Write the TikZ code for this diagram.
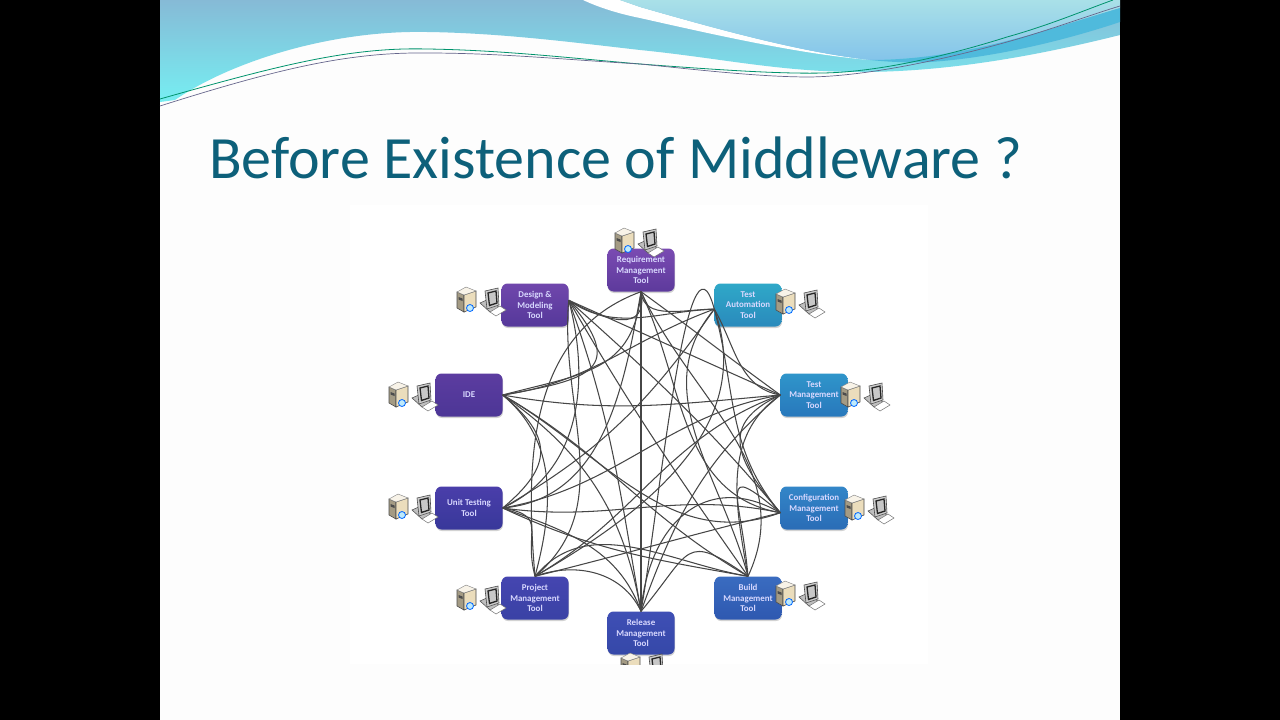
\documentclass[tikz,border=0pt]{standalone}
\usepackage{fontspec}
\setmainfont{Carlito}
\usetikzlibrary{shadows}
\definecolor{titleblue}{HTML}{0D607A}
\definecolor{slidewhite}{HTML}{FDFDFD}
\definecolor{toolink}{HTML}{464646}
\definecolor{bandtop}{HTML}{86BAD6}
\definecolor{bandbot}{HTML}{76EEF2}
\definecolor{skytop}{HTML}{A9E0E8}
\definecolor{skybot}{HTML}{84C4EA}
\definecolor{streak}{HTML}{4FBADC}
\definecolor{servertan}{HTML}{EBDDBC}
\definecolor{reqtop}{HTML}{7A4BB2}\definecolor{reqbot}{HTML}{5D3A9C}
\definecolor{destop}{HTML}{7047AC}\definecolor{desbot}{HTML}{55389A}
\definecolor{tautop}{HTML}{2FA8C8}\definecolor{taubot}{HTML}{2A8ABC}
\definecolor{idetop}{HTML}{5C3CA0}\definecolor{idebot}{HTML}{4C3696}
\definecolor{tmgtop}{HTML}{2F95CA}\definecolor{tmgbot}{HTML}{2878BC}
\definecolor{unttop}{HTML}{4A3EAA}\definecolor{untbot}{HTML}{38389A}
\definecolor{cfgtop}{HTML}{3386C8}\definecolor{cfgbot}{HTML}{2A6CB6}
\definecolor{prjtop}{HTML}{4545B0}\definecolor{prjbot}{HTML}{3A42A5}
\definecolor{bldtop}{HTML}{3A6CC0}\definecolor{bldbot}{HTML}{2E58B0}
\definecolor{reltop}{HTML}{3F4FB5}\definecolor{relbot}{HTML}{3548A8}
\tikzset{
  toolbox/.style={rectangle, rounded corners=6pt, minimum width=67pt, minimum height=43pt,
    inner sep=0pt, top color=#1top, bottom color=#1bot, text=white!85!blue, align=center,
    font=\fontsize{8.9}{10.5}\selectfont\bfseries,
    drop shadow={shadow xshift=.5pt, shadow yshift=-1.5pt, opacity=.35, fill=gray}},
  toollink/.style={draw=toolink, line width=1.05pt},
  hostpair/.pic={
    % server
    \filldraw[draw=black!70, line width=.6pt, fill=servertan!70!black] (-10,-8) -- (-3,-5) -- (-3,12) -- (-10,8) -- cycle;
    \filldraw[draw=black!70, line width=.6pt, fill=servertan] (-3,-5) -- (9,-9) -- (9,7) -- (-3,12) -- cycle;
    \filldraw[draw=black!50, line width=.4pt, fill=servertan!35!white] (-10,-8) -- (-1,-13) -- (9,-9) -- (-3,-5) -- cycle;
    \fill[black!70] (-8.5,-3) -- (-4.5,-1.5) -- (-4.5,1) -- (-8.5,-.5) -- cycle;
    \filldraw[draw=blue!60!cyan, line width=.8pt, fill=white!75!cyan] (3,8) circle (3.5);
    % computer
    \filldraw[draw=black!65, line width=.6pt, fill=black!25] (13,3) -- (22,-1) -- (33,8) -- (23,12) -- cycle;
    \filldraw[draw=black!70, line width=.6pt, fill=black!20] (18,-9) -- (31,-12) -- (32,5) -- (20,9) -- cycle;
    \filldraw[draw=black!85, line width=1.3pt, fill=black!22] (21,-7) -- (29,-9) -- (30,3) -- (22.5,5.5) -- cycle;
    \filldraw[draw=black!55, line width=.5pt, fill=white] (23,12) -- (33,6) -- (39,10) -- (29,16) -- cycle;
  }
}
\begin{document}
\begin{tikzpicture}[x=1pt, y=-1pt]
  \useasboundingbox (0,0) rectangle (1280,720);
  % Slide and its top band
  \fill[black] (0,0) rectangle (1280,720);
  \fill[slidewhite] (160,0) rectangle (1120,720);
  \fill[white] (350,205) rectangle (928,664);
  \shade[top color=bandtop, bottom color=bandbot]
    (160,0) -- (160,102) -- (175,100) .. controls (230,62) and (330,30) .. (427,32)
    .. controls (500,33) and (570,42) .. (640,50) .. controls (720,58) and (780,72) .. (860,72)
    .. controls (950,72) and (1040,55) .. (1120,35) -- (1120,0) -- cycle;
  \fill[white] (583,0) .. controls (600,8) and (620,14) .. (640,18) .. controls (720,36) and (800,54) .. (870,60)
    .. controls (800,52) and (720,30) .. (640,7) -- (620,0) -- cycle;
  \shade[top color=skytop, bottom color=skybot]
    (620,0) -- (640,7) .. controls (720,30) and (800,52) .. (870,60)
    .. controls (960,60) and (1040,32) .. (1120,8) -- (1120,0) -- cycle;
  \fill[streak] (870,60) .. controls (960,60) and (1040,32) .. (1120,8) -- (1120,22)
    .. controls (1060,42) and (990,58) .. (930,62) .. controls (910,63) and (890,62) .. (870,60) -- cycle;
  \draw[teal!85!green, line width=.8pt] (160,99) .. controls (280,65) and (350,47) .. (427,49)
    .. controls (500,50) and (570,58) .. (640,64) .. controls (720,70) and (780,74) .. (823,73)
    .. controls (880,72) and (950,55) .. (1007,37) .. controls (1050,25) and (1085,10) .. (1113,0);
  \draw[black!25!blue!20!gray, line width=.7pt] (160,106) .. controls (280,68) and (350,52) .. (427,53)
    .. controls (500,53) and (570,60) .. (640,64) .. controls (700,70) and (760,77) .. (810,77)
    .. controls (870,76) and (950,58) .. (1007,42) .. controls (1050,30) and (1090,15) .. (1120,6);
  \node[anchor=base west, inner sep=0pt, text=titleblue, font=\fontsize{60}{60}\selectfont] (title) at (209,178) {Before Existence of Middleware ?};

  % Tools
  \node[toolbox=req] (req) at (641,270) {Requirement\\Management\\Tool};
  \node[toolbox=des] (des) at (535,305) {Design \&\\Modeling\\Tool};
  \node[toolbox=tau] (tau) at (748,305) {Test\\Automation\\Tool};
  \node[toolbox=ide] (ide) at (469,395) {IDE};
  \node[toolbox=tmg] (tmg) at (814,395) {Test\\Management\\Tool};
  \node[toolbox=unt] (unt) at (469,508) {Unit Testing\\Tool};
  \node[toolbox=cfg] (cfg) at (814,508) {Configuration\\Management\\Tool};
  \node[toolbox=prj] (prj) at (535,598) {Project\\Management\\Tool};
  \node[toolbox=bld] (bld) at (748,598) {Build\\Management\\Tool};
  \node[toolbox=rel] (rel) at (641,633) {Release\\Management\\Tool};

  % Hosts beside each tool
  \foreach \hx/\hy in {625/241,467/300,786/302,399/395,851/395,399/507,855/508,467/598,786/594}
    \pic at (\hx,\hy) {hostpair};
  \begin{scope}
    \clip (600,640) rectangle (690,664);
    \pic at (631,666) {hostpair};
  \end{scope}

  % Every tool talks to every other tool
  \foreach \from/\to/\oa/\ia/\lo in {
      req.south/tau.187/-85/180/1, req.south/tmg.west/-36/144/1, req.south/cfg.188/-65/170/1,
      req.south/bld.north/-65/65/1, req.south/rel.north/-90/90/1, prj.north/req.south/95/200/1,
      unt.east/req.south/5/-100/1, ide.east/req.south/15/-95/1.2, des.8/req.south/-30/-80/1.5,
      des.8/tau.187/-35/182/1, des.8/tmg.west/-24/156/1, des.8/cfg.188/-42/130/1,
      des.8/bld.north/-60/125/1, des.8/rel.north/-70/100/1, des.8/prj.north/-95/40/1,
      des.8/unt.east/-75/25/1, des.8/ide.east/-50/10/2,
      tau.187/tmg.west/-60/170/1, tau.187/cfg.188/-75/130/1, tau.187/bld.north/-130/105/1,
      tau.187/rel.north/105/80/.85, tau.187/prj.north/-70/30/1, tau.187/unt.east/-125/30/1,
      tau.187/ide.east/200/8/1,
      tmg.west/cfg.188/205/130/1.5, tmg.west/bld.north/215/100/1, tmg.west/rel.north/220/70/1,
      tmg.west/prj.north/200/30/1, tmg.west/unt.east/190/10/1, tmg.west/ide.east/185/-10/1,
      cfg.188/bld.north/140/95/3, cfg.188/rel.north/150/85/1.3, cfg.188/prj.north/194/14/1,
      cfg.188/unt.east/168/-8/1, cfg.188/ide.east/200/-30/1,
      bld.north/rel.north/145/50/1.8, bld.north/prj.north/170/50/1, bld.north/unt.east/170/-25/1,
      bld.north/ide.east/150/-30/1,
      rel.north/prj.north/115/20/1, rel.north/unt.east/110/-20/1, rel.north/ide.east/100/-35/1,
      prj.north/unt.east/105/-10/1.6, prj.north/ide.east/75/-40/1,
      unt.east/ide.east/40/-40/1.5}
    \draw[toollink] (\from) to[out=\oa, in=\ia, looseness=\lo] (\to);
\end{tikzpicture}
\end{document}
